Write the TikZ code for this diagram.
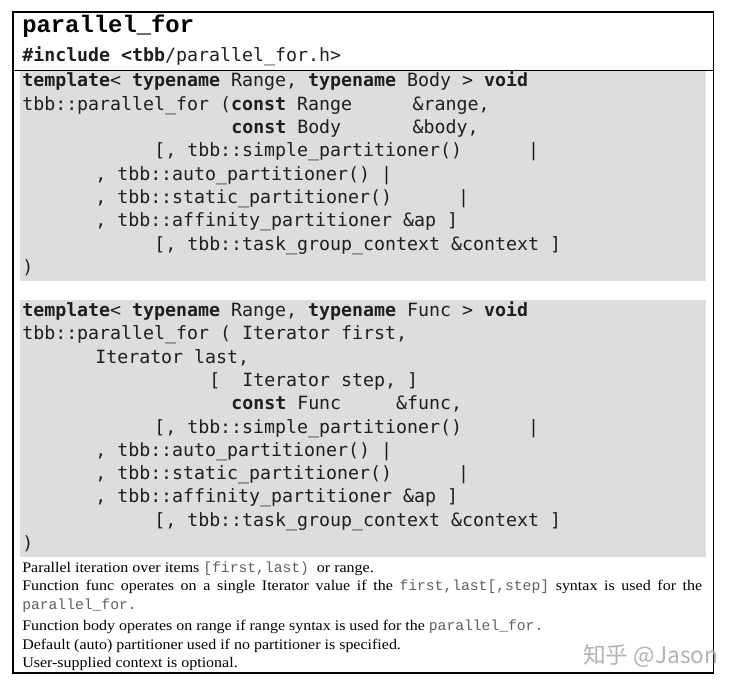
\documentclass[tikz,border=0pt]{standalone}
\usepackage{fontspec}
\usepackage{tikz}
\newfontfamily\codefont{DejaVu Sans Mono}
\newfontfamily\titlefont{Liberation Mono}
\newfontfamily\notefont[FakeStretch=1.09]{Liberation Serif}
\newfontfamily\cjkfont{Noto Sans CJK SC}
\definecolor{boxgray}{RGB}{221,221,221}
\definecolor{codeblack}{RGB}{30,30,30}
\definecolor{notegray}{RGB}{95,95,95}
\definecolor{markgray}{RGB}{178,178,178}
\newlength{\cw}
\setlength{\cw}{8.25pt}
\newcommand{\kw}[1]{\textbf{#1}}
\newcommand{\colgap}[1]{\hspace*{#1\cw}}
\newcommand{\nt}[1]{{\titlefont\fontsize{11}{12}\selectfont\color{notegray}#1}}
\tikzset{
  codeline/.style={anchor=base west,inner sep=0pt,text=codeblack,
    font=\codefont\fontsize{13.7}{16}\selectfont},
  noteline/.style={anchor=base west,inner sep=0pt,text=black,
    font=\notefont\fontsize{11}{13}\selectfont}
}

\begin{document}
\begin{tikzpicture}[x=0.75pt,y=-0.75pt]
          \useasboundingbox (0,0) rectangle (732,684);
          \fill[boxgray] (20,71) rectangle (706,281);
          \fill[boxgray] (20,300) rectangle (706,557);
          \draw[line width=1pt] (13,12) rectangle (713.5,673);
          \draw[line width=1pt] (13,70.5) -- (713.5,70.5);
          \node[anchor=base west,inner sep=0pt] (title) at (22,33) {\titlefont\bfseries\fontsize{17.9}{20}\selectfont parallel\_for};
          \node[codeline] (incl) at (22,62) {\kw{\#include <tbb}/parallel\_for.h>};

          \node[codeline] (ra) at (22,87) {\kw{template}< \kw{typename} Range, \kw{typename} Body > \kw{void}};
          \node[codeline] (rb) at (22,110.3) {tbb::parallel\_for (\kw{const} Range\colgap{5.5}\&range,};
          \node[codeline] (rc) at (231,133.6) {\kw{const} Body\colgap{6.5}\&body,};
          \node[codeline] (rd) at (154,156.9) {[, tbb::simple\_partitioner()\colgap{6}|};
          \node[codeline] (re) at (95,180.2) {, tbb::auto\_partitioner() |};
          \node[codeline] (rf) at (95,203.5) {, tbb::static\_partitioner()\colgap{6}|};
          \node[codeline] (rg) at (95,226.8) {, tbb::affinity\_partitioner \&ap ]};
          \node[codeline] (rh) at (154,250.1) {[, tbb::task\_group\_context \&context ]};
          \node[codeline] (ri) at (22,273.4) {)};

          \node[codeline] (ia) at (22,316.5) {\kw{template}< \kw{typename} Range, \kw{typename} Func > \kw{void}};
          \node[codeline] (ib) at (22,339.8) {tbb::parallel\_for ( Iterator first,};
          \node[codeline] (ic) at (95,363.1) {Iterator last,};
          \node[codeline] (id) at (209,386.4) {[\colgap{2}Iterator step, ]};
          \node[codeline] (ie) at (231,409.7) {\kw{const} Func\colgap{5}\&func,};
          \node[codeline] (if) at (154,433.0) {[, tbb::simple\_partitioner()\colgap{6}|};
          \node[codeline] (ig) at (95,456.3) {, tbb::auto\_partitioner() |};
          \node[codeline] (ih) at (95,479.6) {, tbb::static\_partitioner()\colgap{6}|};
          \node[codeline] (ii) at (95,502.9) {, tbb::affinity\_partitioner \&ap ]};
          \node[codeline] (ij) at (154,526.2) {[, tbb::task\_group\_context \&context ]};
          \node[codeline] (ik) at (22,549.5) {)};

          \node[noteline] (na) at (22,572.5) {Parallel iteration over items \nt{[first,last)} \ or range.};
          \node[noteline] (nb) at (22,590.5) {\makebox[510pt][s]{Function func operates on a single Iterator value if the \nt{first,last[,step]} syntax is used for the}};
          \node[noteline] (nc) at (22,609) {\nt{parallel\_for.}};
          \node[noteline] (nd) at (22,630.5) {Function body operates on range if range syntax is used for the \nt{parallel\_for.}};
          \node[noteline] (ne) at (22,649) {Default (auto) partitioner used if no partitioner is specified.};
          \node[noteline] (nf) at (22,667) {User-supplied context is optional.};
          \node[anchor=base west,inner sep=0pt,text=markgray] (mark) at (583,663) {\cjkfont\fontsize{17}{17}\selectfont 知乎 @Jason};
        \end{tikzpicture}
\end{document}
